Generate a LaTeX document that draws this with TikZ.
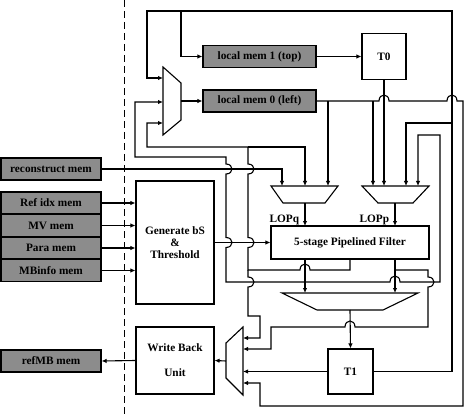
\documentclass[tikz,border=0pt]{standalone}
\usepackage{fontspec}
\setmainfont{Liberation Serif}
\usetikzlibrary{arrows.meta}
\definecolor{memgray}{gray}{0.55}

% wire hops: rightwards, leftwards, downwards, upwards
\newcommand{\hopr}[2]{-- ({#1-5},#2) .. controls ({#1-5},{#2-8}) and ({#1+5},{#2-8}) .. ({#1+5},#2)}
\newcommand{\hopl}[2]{-- ({#1+5},#2) .. controls ({#1+5},{#2-8}) and ({#1-5},{#2-8}) .. ({#1-5},#2)}
\newcommand{\hopd}[2]{-- (#1,{#2-5}) .. controls ({#1+8},{#2-5}) and ({#1+8},{#2+5}) .. (#1,{#2+5})}
\newcommand{\hopu}[2]{-- (#1,{#2+5}) .. controls ({#1+8},{#2+5}) and ({#1+8},{#2-5}) .. (#1,{#2-5})}

\begin{document}
\begin{tikzpicture}[x=1pt, y=-1pt,
  font=\bfseries\fontsize{11.3}{13}\selectfont,
  wire/.style={line width=1.1pt, line join=miter},
  arr/.style={wire, -{Latex[length=5pt,width=4.5pt]}},
  membox/.style={draw, wire, fill=memgray, minimum height=22pt, inner sep=1pt},
  blockbox/.style={draw, wire, fill=white, align=center, inner sep=1pt}]
  \useasboundingbox (0,0) rectangle (474,417);

  % chip boundary
  \draw[line width=1pt, dash pattern=on 7pt off 4pt] (124,0) -- (124,417);

  % external memories
  \node[membox, minimum width=100pt] (recon) at (51,169) {reconstruct mem};
  \node[membox, minimum width=100pt] (refidx) at (51,203) {Ref idx mem};
  \node[membox, minimum width=100pt] (mv) at (51,225.5) {MV mem};
  \node[membox, minimum width=100pt] (para) at (51,248) {Para mem};
  \node[membox, minimum width=100pt] (mbinfo) at (51,270.5) {MBinfo mem};
  \node[membox, minimum width=100pt] (refmb) at (51,361) {refMB mem};

  % internal blocks
  \node[blockbox, minimum width=78pt, minimum height=123pt] (genbs) at (175,242.5)
    {Generate bS\\[-1pt]\&\\[-1pt]Threshold};
  \node[blockbox, minimum width=78pt, minimum height=67pt] (wbu) at (175,360.5)
    {Write Back\\[12pt]Unit};
  \node[membox, minimum width=113pt] (lmem1) at (259.5,56.5) {local mem 1 (top)};
  \node[membox, minimum width=113pt] (lmem0) at (259.5,101) {local mem 0 (left)};
  \node[blockbox, minimum width=44pt, minimum height=46pt] (tzero) at (384,56.5) {T0};
  \node[blockbox, minimum width=158pt, minimum height=33pt] (filter) at (350,242.5)
    {5-stage Pipelined Filter};
  \node[blockbox, minimum width=45pt, minimum height=45pt] (tone) at (350.5,371.5) {T1};

  % multiplexers
  \draw[wire] (163,67) -- (181,83) -- (181,120) -- (163,135) -- cycle;
  \draw[wire] (271,186) -- (338,186) -- (325,203) -- (283,203) -- cycle;
  \draw[wire] (362,186) -- (429,186) -- (413,203) -- (378,203) -- cycle;
  \draw[wire] (282,293) -- (418,293) -- (383,310) -- (317,310) -- cycle;
  \draw[wire] (243,327) -- (243,395) -- (226,378) -- (226,343) -- cycle;

  % inputs of Generate bS
  \foreach \m in {refidx, mv, para, mbinfo}
    \draw[arr] (\m.east) -- (\m.east -| genbs.west);

  % T1 feedback over the top
  \draw[arr] (tone.east) -- (452,371.5) -- (452,11) -- (147,11) -- (147,78) -- (163,78);
  \draw[arr] (181,11) |- (lmem1.west);
  \draw[arr] (452,123) -- (406,123) -- (406,186);
  \draw[arr] (lmem1.east) -- (tzero.west);
  \draw[arr] (tzero.south) -- (384,186);

  % local mem 0
  \draw[arr] (181,101) -- (lmem0.west);
  \draw[arr] (lmem0.east) \hopr{384}{101} \hopr{452}{101} -- (463,101) -- (463,406)
    -- (260,406) -- (260,383) -- (243,383);
  \draw[arr] (328,101) -- (328,186);
  \draw[arr] (373,101) -- (373,186);

  % reconstruct mem
  \draw[arr] (recon.east) -- (282,169) -- (282,186);

  % edge selection
  \draw[arr] (305,203) -- (305,226) node[pos=0.72, left=2pt] {LOPq};
  \draw[arr] (395,203) -- (395,226) node[pos=0.72, left=2pt] {LOPp};
  \draw[arr] (genbs.east |- filter.west) -- (filter.west);

  % filter outputs
  \draw[arr] (305,259) -- (305,293);
  \draw[arr] (395,259) -- (395,293);
  \draw[arr] (350,310) -- (tone.north);
  \draw[arr] (filter.south) -- (350,270) \hopl{305}{270} -- (248,270) \hopu{248}{242.5}
    \hopu{248}{169} -- (248,147) -- (147,147) -- (147,123) -- (163,123);
  \draw[arr] (248,147) -- (305,147) -- (305,186);
  \draw[arr] (248,270) \hopd{248}{282} -- (248,316) -- (260,316) -- (260,338) -- (243,338);
  \draw[arr] (395,270) -- (428,270) \hopd{428}{282} -- (428,327) \hopl{350}{327}
    -- (271,327) -- (271,349) -- (243,349);

  % loop between the two input muxes
  \draw[wire, {Latex[length=5pt,width=4.5pt]}-{Latex[length=5pt,width=4.5pt]}]
    (418,186) -- (418,135) -- (440,135) -- (440,282) \hopl{395}{282} -- (226,282)
    \hopu{226}{242.5} \hopu{226}{169} -- (226,157) -- (135,157) -- (135,102) -- (163,102);

  % write back
  \draw[arr] (226,361) -- (wbu.east);
  \draw[arr] (tone.west) -- (243,371.5);
  \draw[arr] (wbu.west) -- (refmb.east);
\end{tikzpicture}
\end{document}
